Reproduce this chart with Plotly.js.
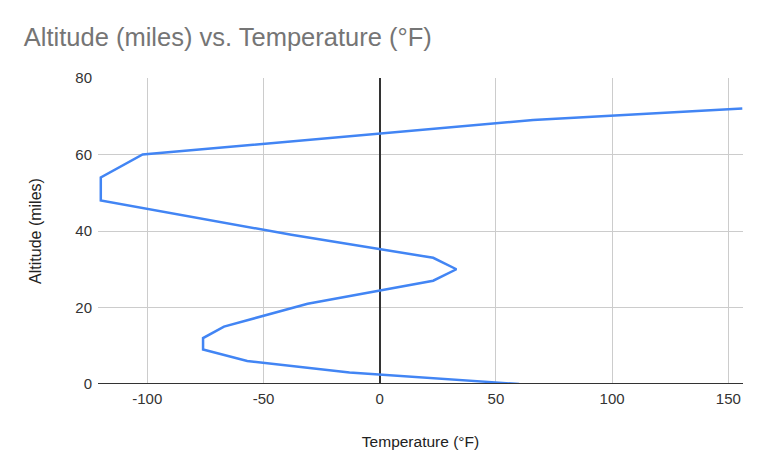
<!DOCTYPE html>
<html>
<head>
<meta charset="utf-8">
<script src="https://cdn.plot.ly/plotly-3.0.1.min.js"></script>
<style>html,body{margin:0;padding:0;background:#fff;}#chart{width:768px;height:475px;}</style>
</head>
<body>
<div id="chart"></div>
<script>
const temperatureF = [60, -13, -57, -76, -76, -67, -31, 23, 33, 23, -38, -120, -120, -102, 66, 156];
const altitudeMiles = [0, 3, 6, 9, 12, 15, 21, 27, 30, 33, 39, 48, 54, 60, 69, 72];
const xTicks = [-100, -50, 0, 50, 100, 150];
const yTicks = [0, 20, 40, 60, 80];

const font = "Arial, 'Liberation Sans', sans-serif";
Plotly.newPlot('chart', [{
  x: temperatureF,
  y: altitudeMiles,
  type: 'scatter',
  mode: 'lines',
  line: {color: '#4285F4', width: 2.5},
  hoverinfo: 'x+y',
  showlegend: false
}], {
  width: 768, height: 475,
  margin: {l: 98, r: 25, t: 78, b: 91},
  paper_bgcolor: '#fff', plot_bgcolor: '#fff',
  title: {text: 'Altitude (miles) vs. Temperature (°F)', x: 0.031, xanchor: 'left', y: 0.921, yanchor: 'middle',
          font: {family: font, size: 25.5, color: '#757575'}},
  xaxis: {
    range: [-121.2, 156.3], tickvals: xTicks, ticktext: xTicks.map(String),
    showgrid: true, gridcolor: '#cccccc', gridwidth: 1,
    zeroline: true, zerolinecolor: '#333333', zerolinewidth: 2,
    showline: false, ticks: '', ticklabelstandoff: 4,
    tickfont: {family: font, size: 15, color: '#333'},
    title: {text: 'Temperature (°F)', font: {family: font, size: 15.5, color: '#222'}, standoff: 30}
  },
  yaxis: {
    range: [0, 80], tickvals: yTicks, ticktext: yTicks.map(String),
    showgrid: true, gridcolor: '#cccccc', gridwidth: 1,
    zeroline: false, showline: false, ticks: '', ticklabelstandoff: 5,
    tickfont: {family: font, size: 15, color: '#333'},
    title: {text: 'Altitude (miles)', font: {family: font, size: 16, color: '#222'}, standoff: 29}
  },
  shapes: [{type: 'line', xref: 'paper', yref: 'y', x0: 0, x1: 1, y0: 0, y1: 0, line: {color: '#333333', width: 2}, layer: 'above'}]
}, {displayModeBar: false, staticPlot: true});
</script>
</body>
</html>
